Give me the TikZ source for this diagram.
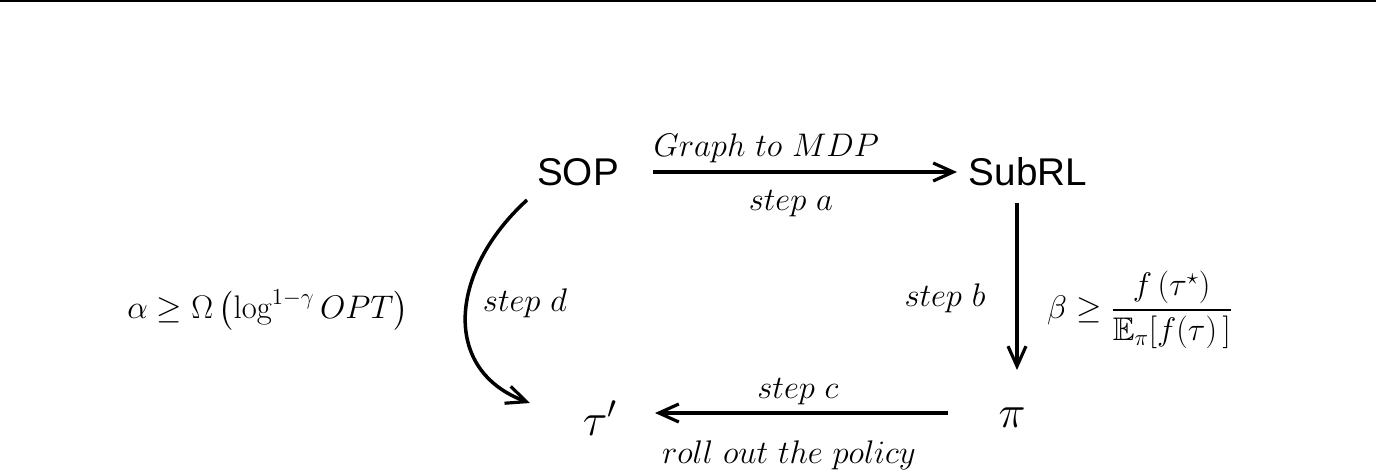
\documentclass[tikz,border=0pt]{standalone}
\usepackage{fix-cm}
\usepackage{amsmath,amssymb}
\usepackage{fontspec}
\newfontfamily\hel{Liberation Sans}
\usetikzlibrary{arrows.meta}
\begin{document}
\begin{tikzpicture}[x=0.02cm,y=-0.02cm,
  big/.style={font=\hel\fontsize{22}{26}\selectfont},
  lab/.style={font=\fontsize{18.6}{22}\selectfont},
  arr/.style={line width=2pt,-{Straight Barb[length=4mm,width=3.6mm,line width=1.8pt]}}]
\useasboundingbox (0,0) rectangle (1376,470);
\draw[line width=0.8pt] (0,1) -- (1376,1);
\node[big] (sop) at (578,172) {SOP};
\node[big] (sub) at (1028,172) {SubRL};
\node[font=\fontsize{26}{30}\selectfont] (tau) at (600,418) {$\tau'$};
\node[font=\fontsize{26}{30}\selectfont] (pi) at (1012,418) {$\pi$};
\coordinate (a1) at (653,172); \coordinate (a2) at (957,172);
\draw[arr] (a1) -- node[lab,above=1pt,xshift=-22pt] {$Graph\ to\ MDP$} node[lab,below=6pt,xshift=-8pt] {$step\ a$} (a2);
\coordinate (b1) at (1017,203); \coordinate (b2) at (1017,370);
\draw[arr] (b1) -- (b2);
\node[lab] (lb) at (945,298) {$step\ b$};
\node[lab] (beta) at (1140,310) {$\beta \geq \dfrac{f\left(\tau^{\star}\right)}{\mathbb{E}_{\pi}[f(\tau)\,]}$};
\coordinate (c1) at (948,413); \coordinate (c2) at (655,413);
\draw[arr] (c1) -- (c2);
\node[lab] (lc) at (798,392) {$step\ c$};
\node[lab] (lc2) at (789,455) {$roll\ out\ the\ policy$};
\coordinate (d1) at (527,200); \coordinate (d2) at (530,403);
\draw[arr] (d1) .. controls (450,270) and (440,370) .. (d2);
\node[lab] (ld) at (525,303) {$step\ d$};
\node[lab] (alpha) at (268,310) {$\alpha \geq \Omega\left(\log^{1-\gamma} OPT\right)$};
\end{tikzpicture}
\end{document}
